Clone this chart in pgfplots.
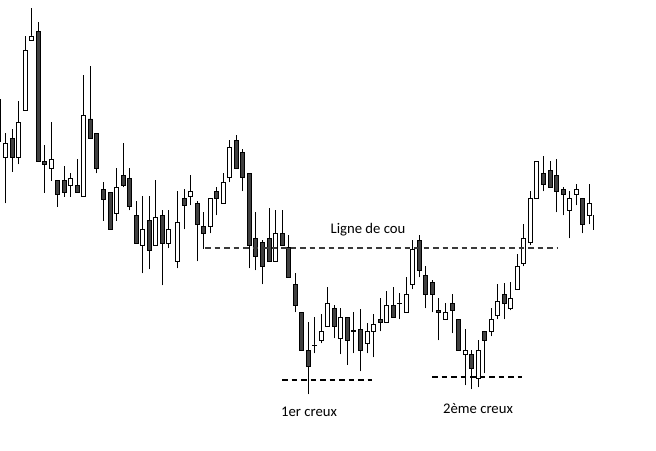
\documentclass[border=0pt]{standalone}
\usepackage{pgfplots}
\usepackage{pgfplotstable}
\pgfplotsset{compat=1.18}
\usepackage{fontspec}
\setmainfont{Carlito}

\definecolor{bearfill}{HTML}{404040}
\definecolor{neckgray}{HTML}{3A3A3A}

% daily candles: x position, open, high, low, close
\pgfplotstableread{
x     o      h      l      c
5.3   292.7  317.3  246.7  306.7
12.3  311.7  321.0  278.3  292.7
18.3  292.7  349.0  285.7  327.7
25.3  339.7  414.0  339.7  399.7
31.3  409.7  442.0  409.7  414.0
38.3  418.7  428.0  288.7  288.7
44.3  288.7  304.7  257.3  285.7
51.3  281.7  328.0  269.3  290.7
57.3  269.7  269.7  243.3  255.7
64.3  269.7  284.0  253.3  257.7
70.3  264.7  277.0  253.3  271.7
77.3  264.7  291.0  257.7  257.7
83.3  253.7  375.0  253.7  334.7
90.3  331.0  384.0  311.7  311.7
96.3  316.7  316.7  276.7  281.7
103.3 260.7  268.0  229.3  250.7
110.3 257.7  257.7  220.7  220.7
116.3 236.7  281.7  229.3  262.7
123.3 274.7  307.0  262.7  264.7
129.3 271.7  281.7  239.7  243.7
136.3 234.7  248.7  206.7  206.7
142.5 204.7  253.7  176.7  220.7
149.3 229.7  253.7  180.7  199.7
155.3 204.7  269.7  204.7  232.7
162.3 234.7  239.7  164.7  206.7
168.3 206.7  239.7  201.7  220.7
177.3 188.7  258.7  181.7  227.7
184.3 251.7  260.7  220.7  244.7
190.3 253.7  274.7  244.7  258.7
197.3 246.7  248.7  188.7  225.7
203.3 223.7  237.7  201.0  216.7
210.3 223.7  251.7  216.7  251.7
216.3 258.7  262.7  234.7  251.7
223.3 246.7  276.7  246.7  267.7
229.3 272.7  309.7  267.7  302.7
236.3 309.7  314.7  281.7  281.7
242.3 297.7  300.7  258.7  272.7
249.3 276.7  276.7  181.7  204.7
255.3 211.7  237.7  179.7  193.7
262.3 207.7  209.7  165.7  183.7
269.3 211.7  241.7  188.7  188.7
275.3 188.7  239.7  188.7  216.7
282.3 216.7  239.7  204.7  204.7
288.3 202.7  214.7  172.7  172.7
295.3 165.7  176.7  137.7  144.7
301.3 137.7  137.7   99.7   99.7
308.3  99.7  127.7   55.7   83.7
314.3 104.4  132.7   96.7  105.0
321.3 109.7  135.7  106.7  118.7
327.3 123.7  162.7  123.7  146.7
334.3 141.7  144.7  111.7  123.7
340.3 111.7  141.7   95.7  132.7
347.3 132.7  132.7   85.3  109.7
353.3 119.0  137.7   96.7  119.5
360.3 120.7  140.7   78.7   99.7
367.3 106.7  126.7   96.7  118.7
373.3 118.7  135.7   92.7  125.7
380.3 130.7  151.7  118.7  127.7
386.3 127.7  158.7  127.7  144.7
393.3 144.7  162.7  132.7  132.7
399.3 146.5  156.7  130.7  147.0
406.3 137.7  172.7  137.7  155.7
412.3 165.7  209.7  160.7  200.7
419.3 209.7  214.7  172.7  179.7
425.3 174.7  183.7  141.7  155.7
432.3 167.7  169.7  137.7  155.7
438.3 139.7  151.7  109.7  137.7
445.3 130.7  146.7  130.7  137.7
452.3 146.7  155.7  116.7  139.7
458.3 130.7  130.7   99.7   99.7
465.3  95.7  120.7   64.7   99.7
471.3  95.7   99.7   60.7   81.7
478.3  71.7  109.7   62.7   99.7
484.3 118.7  118.7   76.7  109.7
491.3 118.7  141.7  113.7  130.7
497.3 134.7  165.7  130.7  148.7
504.3 155.7  166.7  130.7  146.7
510.3 141.7  167.7  139.7  151.7
517.3 160.7  195.7  160.7  183.7
523.3 186.7  225.7  183.7  211.7
530.3 207.7  259.0  204.7  251.7
536.3 251.7  288.7  251.7  288.7
543.3 276.7  294.3  258.7  265.7
550.3 279.7  288.7  262.7  262.7
556.3 274.7  290.7  237.7  258.7
563.3 260.7  262.7  234.7  255.7
569.3 239.7  258.7  211.7  251.7
576.3 255.7  265.7  244.7  260.7
582.3 251.7  251.7  216.7  225.7
589.3 234.7  265.7  225.7  246.7
}\candles

% candles cut at the edges, only their shadows are visible
\pgfplotstableread{
x     h      l
0.8   351.0  308.0
593.3 234.7  220.0
}\stubs

\pgfplotsset{
  chartframe/.style={
    width=656pt, height=450pt, scale only axis,
    xmin=0, xmax=656, ymin=0, ymax=450,
    ticks=none, axis line style={draw=none},
  },
  shadow/.style={
    draw=none, mark=none,
    error bars/.cd, y dir=plus, y explicit, error mark=none,
    error bar style={line width=0.9pt, black, solid},
  },
  level/.style={line width=2.1pt, mark=none, dash pattern=on 5.5pt off 4pt},
}

\begin{document}
\begin{tikzpicture}
% shadows (high-low range)
\begin{axis}[chartframe]
  \addplot[shadow]
    table[x=x, y=l, y error expr={\thisrow{h}-\thisrow{l}}] {\candles};
  \addplot[shadow]
    table[x=x, y=l, y error expr={\thisrow{h}-\thisrow{l}}] {\stubs};
\end{axis}

% real bodies (open-close)
\begin{axis}[chartframe, ybar stacked, bar width=4.2pt]
  \addplot[draw=none, fill=none, forget plot]
    table[x=x, y expr={min(\thisrow{o},\thisrow{c})}] {\candles};
  \addplot[draw=black, line width=0.8pt, fill=white]
    table[x=x, y expr={max(\thisrow{c}-\thisrow{o},0)}] {\candles};
  \addplot[draw=black, line width=0.8pt, fill=bearfill]
    table[x=x, y expr={max(\thisrow{o}-\thisrow{c},0)}] {\candles};
\end{axis}

% neckline, the two troughs and their labels
\begin{axis}[chartframe]
  \addplot[level, draw=neckgray] coordinates {(205,202) (557,202)};
  \addplot[level, draw=black] coordinates {(282,70) (372,70)};
  \addplot[level, draw=black] coordinates {(432,73) (522,73)};

  \node[font=\fontsize{14.7}{17}\selectfont] at (axis cs:368,220) {Ligne de cou};
  \node[font=\fontsize{14.7}{17}\selectfont] at (axis cs:309,38) {1er creux};
  \node[font=\fontsize{14.7}{17}\selectfont] at (axis cs:478,41) {2ème creux};
\end{axis}
\end{tikzpicture}
\end{document}
